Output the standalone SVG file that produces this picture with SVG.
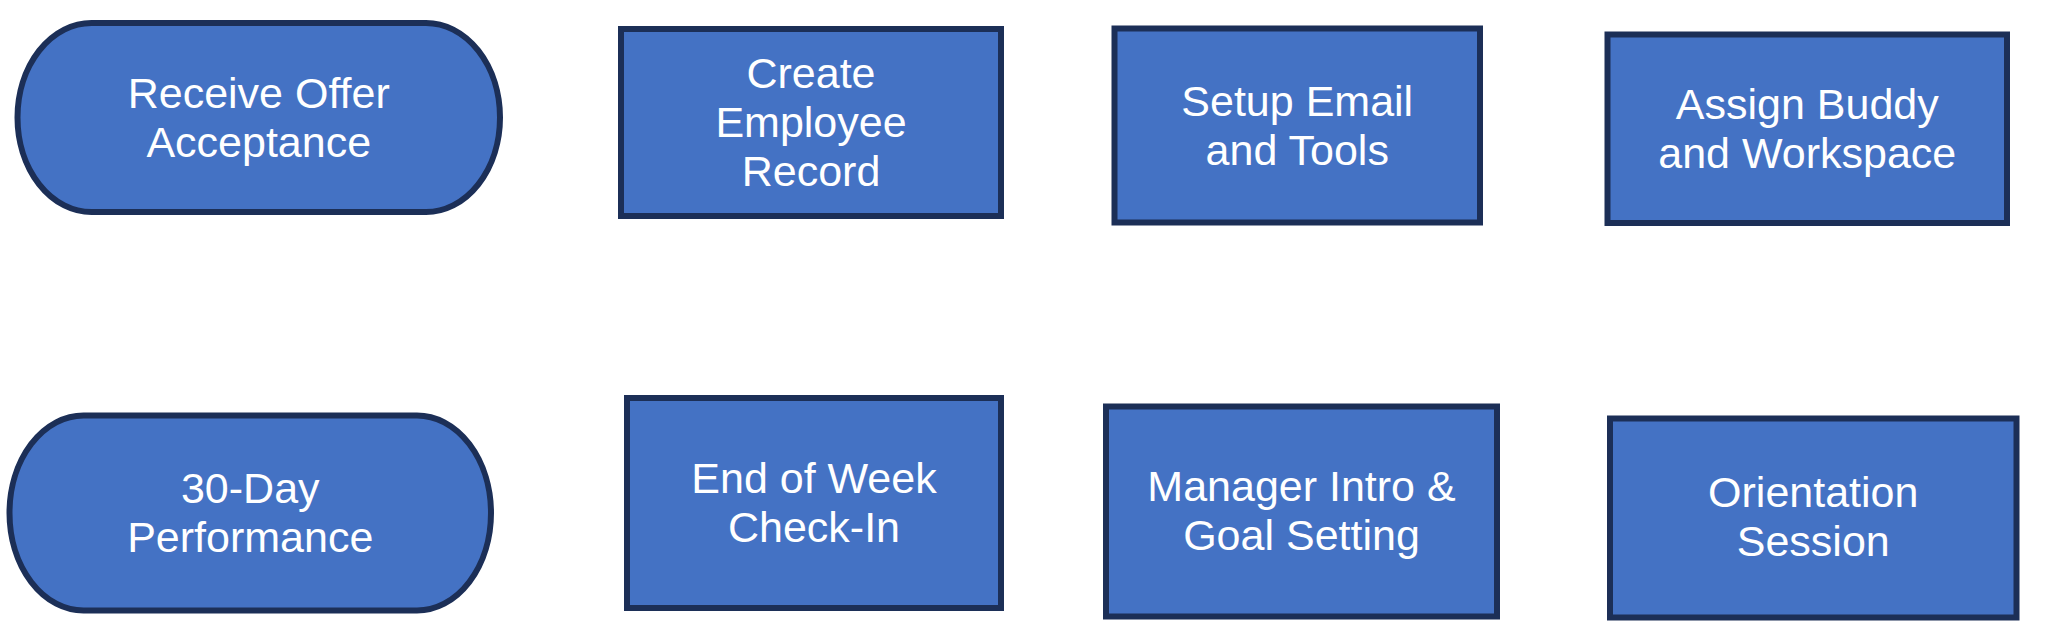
<svg xmlns="http://www.w3.org/2000/svg" width="2048" height="636" viewBox="0 0 2048 636">
<style>
.box{fill:#4472c4;stroke:#1c2f57;stroke-width:6}
.lbl{fill:#ffffff;font-family:"Liberation Sans",Arial,sans-serif;font-size:43px;text-anchor:middle}
</style>
<rect width="2048" height="636" fill="#ffffff"/>
<g id="connectors"></g>
<g id="n1">
<rect class="box" x="17.5" y="23" width="482.5" height="189" rx="74" ry="94.5"/>
<text class="lbl"><tspan x="258.75" y="108">Receive Offer</tspan><tspan x="258.75" y="157">Acceptance</tspan></text>
</g>
<g id="n2">
<rect class="box" x="621" y="29" width="380" height="187"/>
<text class="lbl"><tspan x="811" y="87.5">Create</tspan><tspan x="811" y="136.5">Employee</tspan><tspan x="811" y="185.5">Record</tspan></text>
</g>
<g id="n3">
<rect class="box" x="1114.5" y="28.5" width="365.5" height="194"/>
<text class="lbl"><tspan x="1297.25" y="116">Setup Email</tspan><tspan x="1297.25" y="165">and Tools</tspan></text>
</g>
<g id="n4">
<rect class="box" x="1607.5" y="34.5" width="399.5" height="188.5"/>
<text class="lbl"><tspan x="1807.25" y="119">Assign Buddy</tspan><tspan x="1807.25" y="168">and Workspace</tspan></text>
</g>
<g id="n5">
<rect class="box" x="9.5" y="415.5" width="481.5" height="195" rx="74" ry="97.5"/>
<text class="lbl"><tspan x="250.25" y="502.5">30-Day</tspan><tspan x="250.25" y="551.5">Performance</tspan></text>
</g>
<g id="n6">
<rect class="box" x="627" y="398" width="374" height="210"/>
<text class="lbl"><tspan x="814" y="492.5">End of Week</tspan><tspan x="814" y="541.5">Check-In</tspan></text>
</g>
<g id="n7">
<rect class="box" x="1106" y="406.5" width="391" height="210"/>
<text class="lbl"><tspan x="1301.5" y="501">Manager Intro &amp;</tspan><tspan x="1301.5" y="550">Goal Setting</tspan></text>
</g>
<g id="n8">
<rect class="box" x="1610" y="418.5" width="406.5" height="199"/>
<text class="lbl"><tspan x="1813.25" y="506.75">Orientation</tspan><tspan x="1813.25" y="555.75">Session</tspan></text>
</g>
</svg>
